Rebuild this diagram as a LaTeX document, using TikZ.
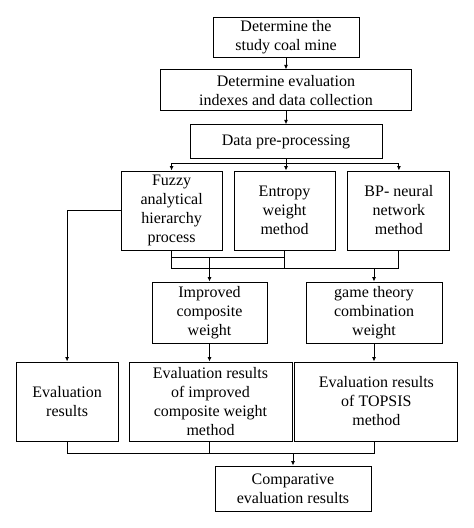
\documentclass[tikz,border=0pt]{standalone}
\usepackage{fontspec}
\setmainfont{Liberation Serif}
\usetikzlibrary{arrows.meta,positioning,calc}

\begin{document}
\begin{tikzpicture}[
  x=1pt, y=-1pt,
  box/.style={draw, line width=0.9pt, align=center, inner sep=1pt, font=\fontsize{16}{19}\selectfont},
  arr/.style={-{Latex[length=4.5pt,width=4pt]}, line width=0.9pt},
  ln/.style={line width=0.9pt}
]
\useasboundingbox (0,0) rectangle (474,528);

% main column
\node[box, minimum width=146pt, minimum height=40pt] (mine) at (286,37) {Determine the\\study coal mine};
\node[box, minimum width=251pt, minimum height=41pt, below=12pt of mine] (index) {Determine evaluation\\indexes and data collection};
\node[box, minimum width=192pt, minimum height=34pt, below=13pt of index] (prep) {Data pre-processing};

% weighting methods
\node[box, minimum width=101pt, minimum height=79pt] (ewm) at (284.5,210.5) {Entropy\\weight\\method};
\node[box, minimum width=101pt, minimum height=79pt, left=11pt of ewm] (fahp) {Fuzzy\\analytical\\hierarchy\\process};
\node[box, minimum width=102pt, minimum height=79pt, right=12pt of ewm] (bpnn) {BP- neural\\network\\method};

\node[box, minimum width=115pt, minimum height=61pt] (icw) at (209.5,312.5) {Improved\\composite\\weight};
\node[box, minimum width=136pt, minimum height=61pt] (gtc) at (374,312.5) {game theory\\combination\\weight};

% results
\node[box, minimum width=163pt, minimum height=79pt] (ricw) at (210.5,401.5) {Evaluation results\\of improved\\composite weight\\method};
\node[box, minimum width=102pt, minimum height=79pt, left=10pt of ricw] (res) {Evaluation\\results};
\node[box, minimum width=163pt, minimum height=79pt, right=2pt of ricw] (rtop) {Evaluation results\\of TOPSIS\\method};
\node[box, minimum width=156pt, minimum height=45pt] (comp) at (293,488.5) {Comparative\\evaluation results};

% connectors
\draw[arr] (mine) -- (index);
\draw[arr] (index) -- (prep);
\draw[ln] (prep.south) -- ++(0,4) coordinate (split);
\draw[arr] (split) -| (fahp.north);
\draw[arr] (split) -| (bpnn.north);
\draw[arr] (split) -- (split |- ewm.north);

\draw[ln] (fahp.south) -- ++(0,18) coordinate (jn) -| (bpnn.south);
\draw[ln] (ewm.south) -- (ewm.south |- jn);
\draw[ln] ($(fahp.south)+(0,7)$) coordinate (jm) -- (ewm.south |- jm);
\draw[arr] (icw.north |- jm) -- (icw.north);
\draw[arr] (gtc.north |- jn) -- (gtc.north);

\draw[arr] (fahp.west) -| (res.north);
\draw[arr] (icw.south) -- (icw.south |- ricw.north);
\draw[arr] (gtc.south) -- (gtc.south |- rtop.north);

\draw[ln] (res.south) -- ++(0,12) coordinate (bl) -| (gtc.south |- rtop.south);
\draw[ln] (icw.south |- ricw.south) -- (icw.south |- bl);
\draw[arr] (comp.north |- bl) -- (comp.north);

\end{tikzpicture}
\end{document}
